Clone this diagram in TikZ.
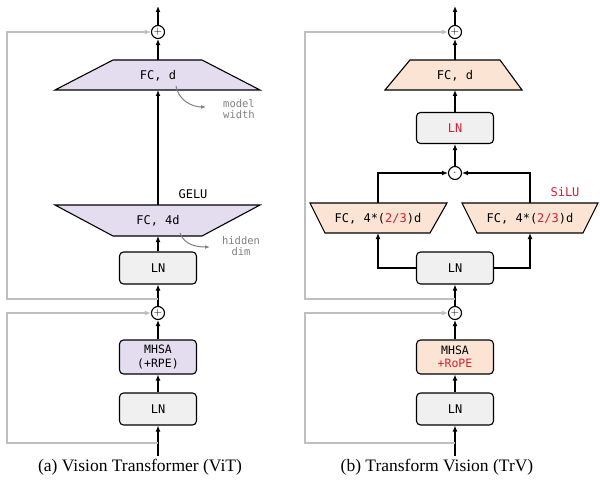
\documentclass[tikz,border=0pt]{standalone}
\usepackage{fontspec}
\setmainfont{Liberation Serif}
\setmonofont{DejaVu Sans Mono}
\usetikzlibrary{arrows.meta}
\definecolor{purp}{HTML}{E4DDF0}
\definecolor{peach}{HTML}{FBE4D4}
\definecolor{boxg}{HTML}{F0F0F0}
\definecolor{redt}{HTML}{D02030}
\begin{document}
\begin{tikzpicture}[x=1pt,y=-1pt,
  arr/.style={-{Latex[length=6pt,width=5pt]},line width=1.2pt},
  skip/.style={-{Latex[length=6pt,width=5pt]},line width=1.1pt,draw=gray!50},
  lbl/.style={font=\ttfamily\fontsize{12}{13}\selectfont},
  rbox/.style={draw,line width=1.1pt,rounded corners=4pt,minimum width=77pt,minimum height=32pt,font=\ttfamily\fontsize{12}{13}\selectfont,align=center},
  rbox2/.style={rbox,font=\ttfamily\fontsize{11.5}{13.5}\selectfont,inner sep=2pt,minimum height=34pt},
  circ/.style={draw,circle,line width=1.1pt,inner sep=0pt,minimum size=13pt,font=\fontsize{11}{11}\selectfont},
  trap/.style={draw,line width=1.1pt},
  note/.style={->,>={Latex[length=5pt]},gray,line width=1pt},
  ntext/.style={font=\ttfamily\fontsize{10.5}{11}\selectfont,text=gray,align=center}]
\useasboundingbox (0,0) rectangle (600,487);
% ===== left (ViT)
\node[circ] (pa) at (158,32) {$+$};
\coordinate (oa) at (158,6);
\draw[trap,fill=purp] (113,60)--(202,60)--(260,90)--(55,90)--cycle;
\node[lbl] (fcd) at (158,76) {FC, d};
\coordinate (fcdb) at (158,90); \coordinate (fcdt) at (158,60);
\draw[trap,fill=purp] (55,205)--(260,205)--(202,236)--(113,236)--cycle;
\node[lbl] (fc4) at (158,221) {FC, 4d};
\coordinate (fc4t) at (158,205); \coordinate (fc4b) at (158,236);
\node[lbl] (gelu) at (193,194) {GELU};
\node[rbox,fill=boxg] (lna) at (158,268) {LN};
\node[circ] (pb) at (158,313) {$+$};
\node[rbox2,fill=purp] (mhsa) at (158,357) {MHSA\\(+RPE)};
\node[rbox,fill=boxg] (lnb) at (158,409) {LN};
\coordinate (ina) at (158,456);
\draw[arr] (ina)--(lnb); \draw[arr] (lnb)--(mhsa); \draw[arr] (mhsa)--(pb);
\draw[arr] (pb)--(lna); \draw[arr] (lna)--(fc4b); \draw[arr] (fc4t)--(fcdb);
\draw[arr] (fcdt)--(pa); \draw[arr] (pa)--(oa);
\draw[skip] (158,443)--(7,443)--(7,313)--(pb.west);
\draw[skip] (158,299)--(7,299)--(7,32)--(pa.west);
\draw[note] (176,86) to[out=-80,in=180] (206,107);
\node[ntext] at (239,109) {model\\width};
\draw[note] (180,233) to[out=-70,in=180] (210,247);
\node[ntext] at (241,246) {hidden\\dim};
\node[font=\fontsize{17.5}{20}\selectfont] (capa) at (140,467) {(a) Vision Transformer (ViT)};
% ===== right
\node[circ] (pc) at (455,32) {$+$};
\coordinate (oc) at (455,6);
\draw[trap,fill=peach] (410,60)--(500,60)--(522,90)--(385,90)--cycle;
\node[lbl] at (455,76) {FC, d};
\coordinate (rfdt) at (455,60); \coordinate (rfdb) at (455,90);
\node[rbox,fill=boxg,text=redt,minimum height=31pt] (lnr) at (455,128) {LN};
\node[circ] (dot) at (455,173) {$\cdot$};
\draw[trap,fill=peach] (310,203)--(447,203)--(430,233)--(325,233)--cycle;
\node[lbl] at (378,219) {FC, 4*(\textcolor{redt}{2/3})d};
\draw[trap,fill=peach] (462,203)--(598,203)--(583,233)--(477,233)--cycle;
\node[lbl] at (530,219) {FC, 4*(\textcolor{redt}{2/3})d};
\node[lbl,text=redt] at (565,192) {SiLU};
\node[rbox,fill=boxg] (lnc) at (455,268) {LN};
\node[circ] (pd) at (455,313) {$+$};
\node[rbox2,fill=peach] (rope) at (455,357) {MHSA\\\textcolor{redt}{+RoPE}};
\node[rbox,fill=boxg] (lnd) at (455,409) {LN};
\coordinate (inc) at (455,456);
\draw[arr] (inc)--(lnd); \draw[arr] (lnd)--(rope); \draw[arr] (rope)--(pd);
\draw[arr] (pd)--(lnc);
\draw[arr] (lnc.west)-|(378,233); \draw[arr] (lnc.east)-|(530,233);
\draw[arr] (378,203)|-(dot.west); \draw[arr] (530,203)|-(dot.east);
\draw[arr] (dot)--(lnr); \draw[arr] (lnr)--(rfdb); \draw[arr] (rfdt)--(pc); \draw[arr] (pc)--(oc);
\draw[skip] (455,443)--(305,443)--(305,313)--(pd.west);
\draw[skip] (455,299)--(305,299)--(305,32)--(pc.west);
\node[font=\fontsize{17.5}{20}\selectfont] (capb) at (437,467) {(b) Transform Vision (TrV)};
\end{tikzpicture}
\end{document}
